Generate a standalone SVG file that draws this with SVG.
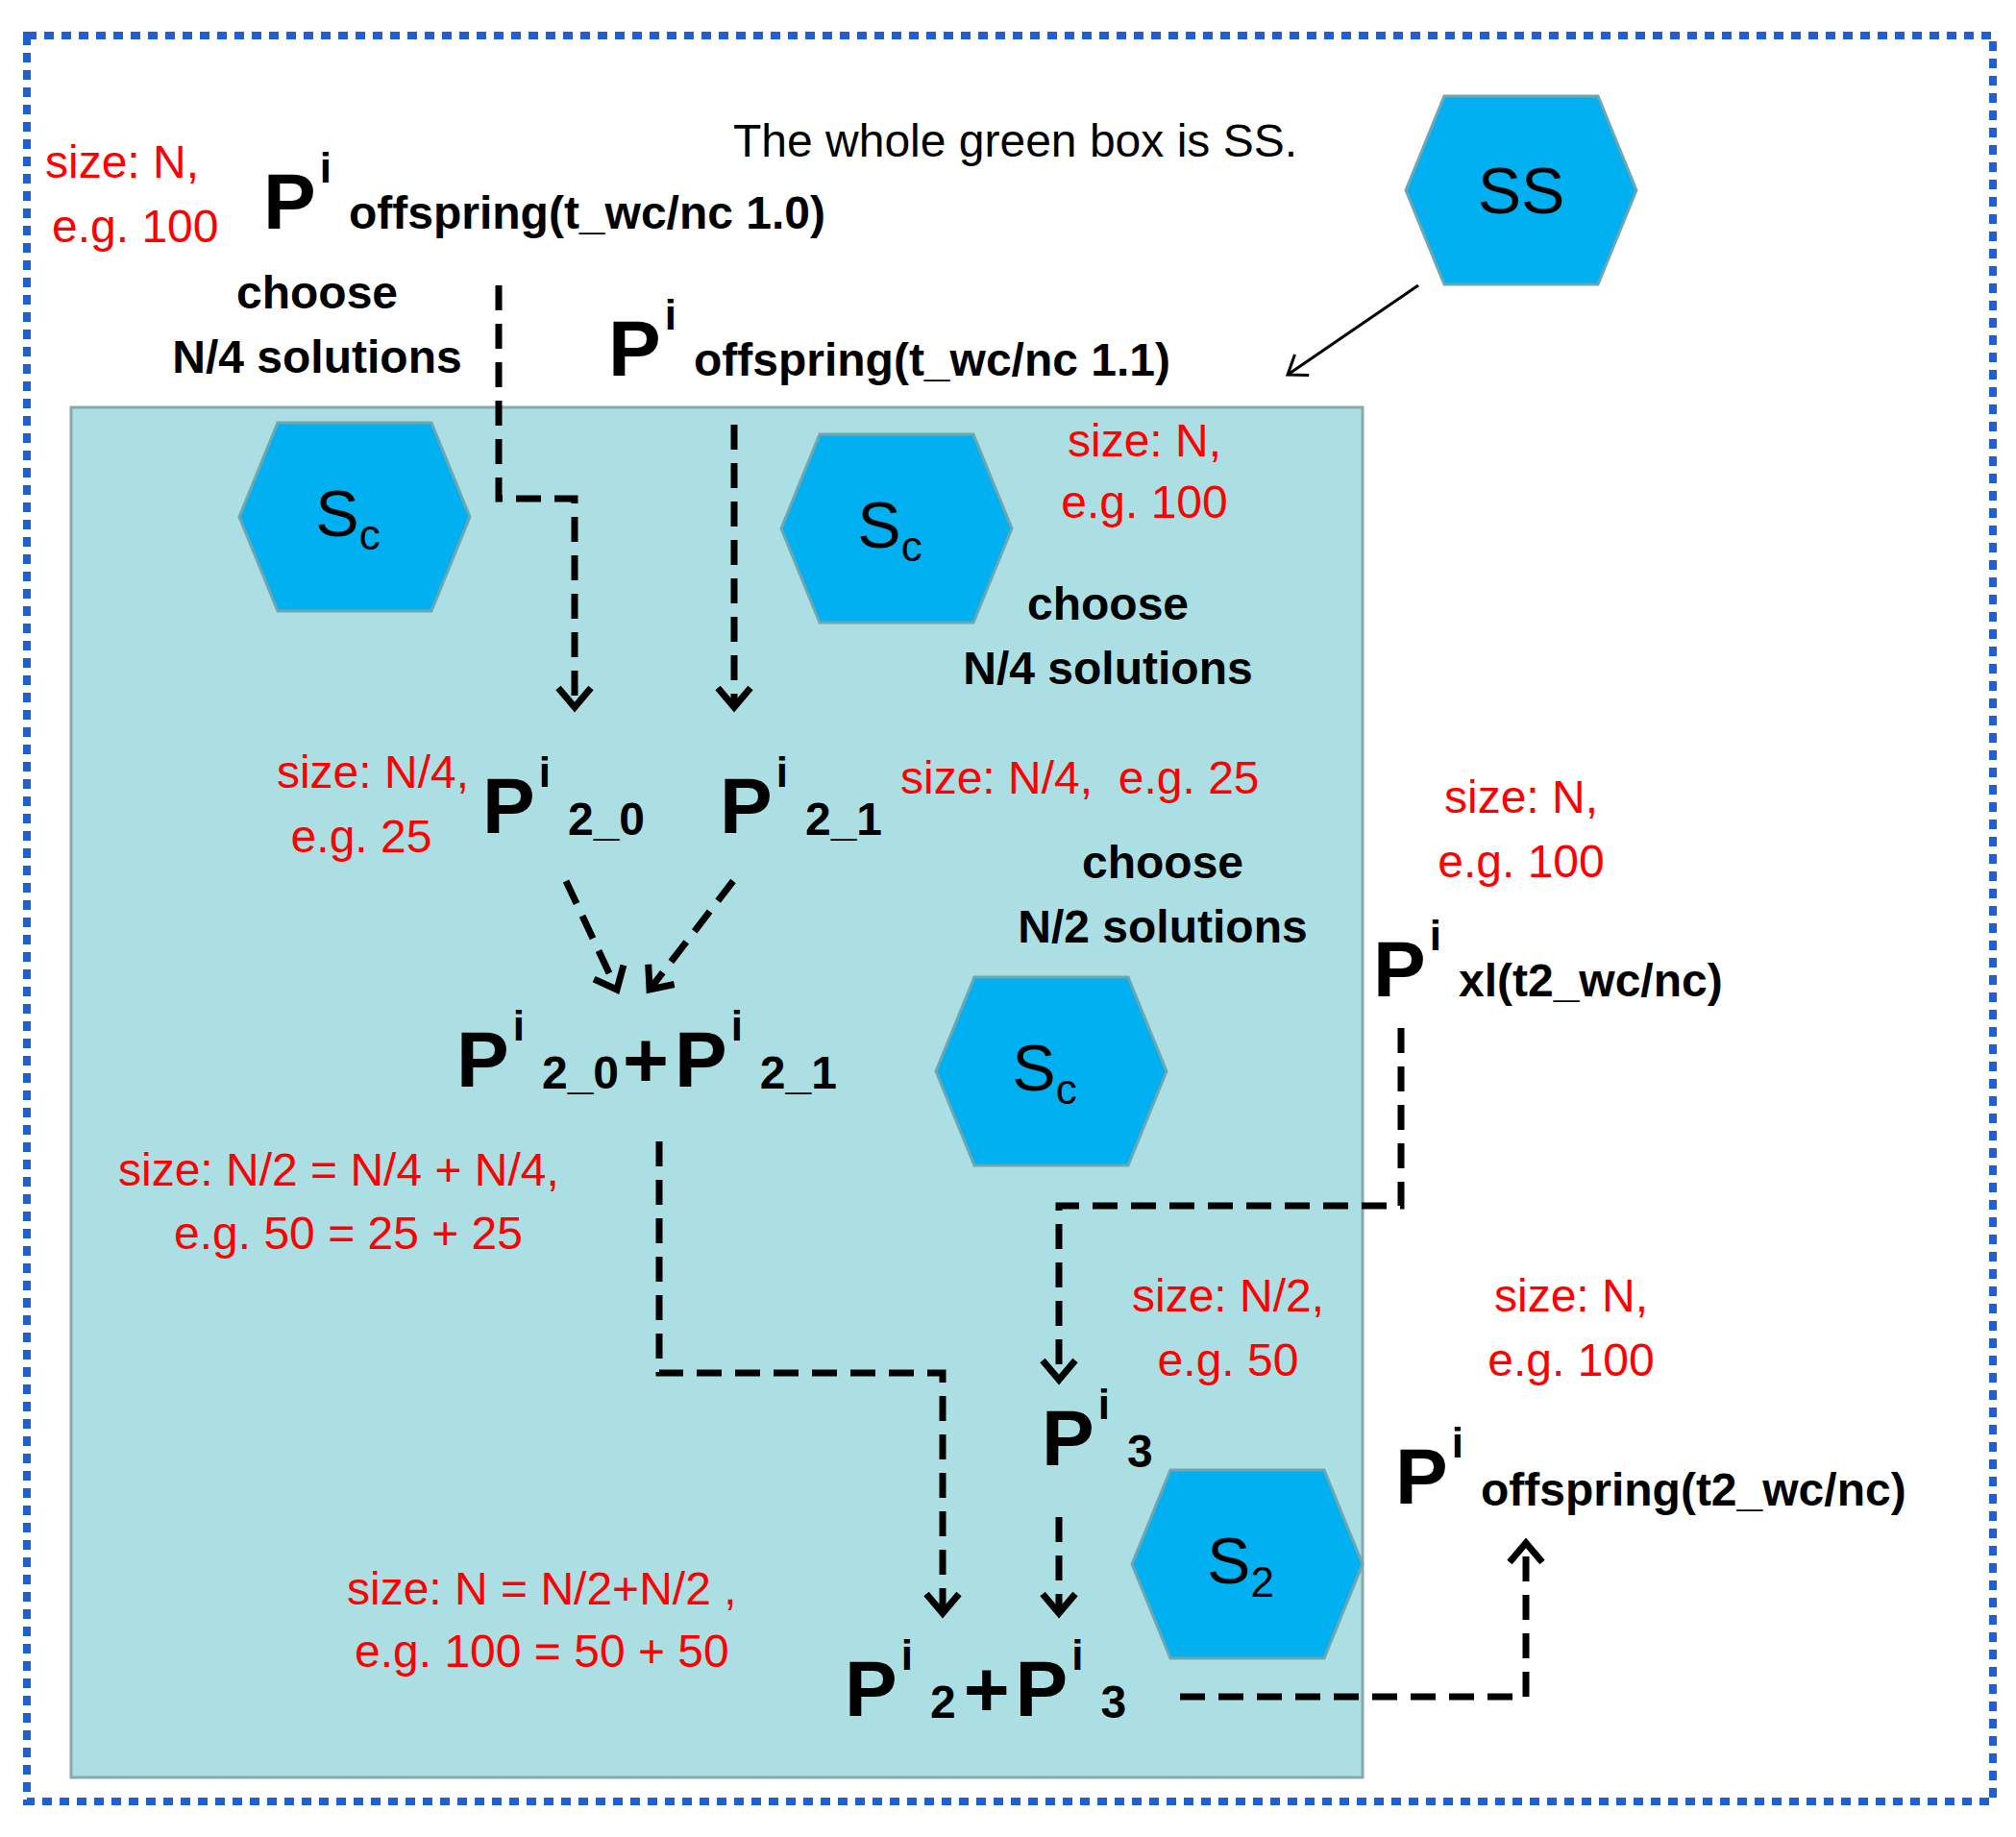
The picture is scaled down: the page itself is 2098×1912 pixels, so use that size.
<svg xmlns="http://www.w3.org/2000/svg" width="2098" height="1912" viewBox="0 0 2098 1912">
<defs>
<style>
.hex{fill:#00b0f0;stroke:#6fa6b0;stroke-width:3}
.hl{font-family:"Liberation Sans",Arial,sans-serif;font-size:68px;fill:#000;text-anchor:middle}
.red{font-family:"Liberation Sans",Arial,sans-serif;font-size:48px;fill:#ff0000}
.b{font-family:"Liberation Sans",Arial,sans-serif;font-weight:bold;fill:#000}
.P{font-size:82px}
.sup{font-size:44px}
.sub{font-size:48px}
.lab{font-size:48px;text-anchor:middle}
.dash{fill:none;stroke:#000;stroke-width:7;stroke-dasharray:26 14}
</style>
<marker id="ah" markerUnits="userSpaceOnUse" markerWidth="50" markerHeight="50" viewBox="-25 -25 50 50" refX="0" refY="0" orient="auto">
<path d="M-20,-17 L0,0 L-20,17" fill="none" stroke="#000" stroke-width="7"/>
</marker>
<marker id="ah2" markerUnits="userSpaceOnUse" markerWidth="40" markerHeight="40" viewBox="-20 -20 40 40" refX="0" refY="0" orient="auto">
<path d="M-18,-13 L0,0 L-18,13" fill="none" stroke="#000" stroke-width="3"/>
</marker>
</defs>
<rect width="2098" height="1912" fill="#fff"/>
<rect x="28" y="37" width="2046" height="1838" fill="none" stroke="#1f5fd0" stroke-width="8" stroke-dasharray="10 8"/>
<rect id="greenbox" x="74" y="424" width="1344" height="1426" fill="#acdfe3" stroke="#8aa" stroke-width="3"/>

<g id="SS"><polygon class="hex" points="1463,198 1503,100 1663,100 1703,198 1663,296 1503,296"/><text class="hl" x="1583" y="222">SS</text></g>
<g id="Sc1"><polygon class="hex" points="249,538 289,440 449,440 489,538 449,636 289,636"/><text class="hl" x="362" y="558">S<tspan font-size="44" dy="14">c</tspan></text></g>
<g id="Sc2"><polygon class="hex" points="813,550 853,452 1013,452 1053,550 1013,648 853,648"/><text class="hl" x="926" y="570">S<tspan font-size="44" dy="14">c</tspan></text></g>
<g id="Sc3"><polygon class="hex" points="974,1115 1014,1017 1174,1017 1214,1115 1174,1213 1014,1213"/><text class="hl" x="1087" y="1135">S<tspan font-size="44" dy="14">c</tspan></text></g>
<g id="S2"><polygon class="hex" points="1178,1628 1218,1530 1378,1530 1418,1628 1378,1726 1218,1726"/><text class="hl" x="1291" y="1648">S<tspan font-size="44" dy="14">2</tspan></text></g>

<g id="connectors">
<path class="dash" d="M519,297 V519 H598 V736" marker-end="url(#ah)"/>
<path class="dash" d="M764,442 V736" marker-end="url(#ah)"/>
<path class="dash" d="M589,917 L642,1030" marker-end="url(#ah)"/>
<path class="dash" d="M763,917 L676,1030" marker-end="url(#ah)"/>
<path class="dash" d="M686,1188 V1429 H981 V1679" marker-end="url(#ah)"/>
<path class="dash" d="M1458,1070 V1255 H1102 V1436" marker-end="url(#ah)"/>
<path class="dash" d="M1102,1579 V1679" marker-end="url(#ah)"/>
<path class="dash" d="M1228,1766 H1588 V1606" marker-end="url(#ah)"/>
<path d="M1476,297 L1340,390" fill="none" stroke="#000" stroke-width="3" marker-end="url(#ah2)"/>
</g>

<g id="texts">
<text x="763" y="163" font-family="Liberation Sans,Arial,sans-serif" font-size="48">The whole green box is SS.</text>
<text class="red" x="47" y="185">size: N,</text>
<text class="red" x="54" y="252">e.g. 100</text>
<text class="b" x="274" y="238"><tspan class="P">P</tspan><tspan class="sup" dx="4" dy="-48">i</tspan><tspan class="sub" dx="18" dy="48">offspring(t_wc/nc 1.0)</tspan></text>
<text class="b lab" x="330" y="321">choose</text>
<text class="b lab" x="330" y="388">N/4 solutions</text>
<text class="b" x="633" y="391"><tspan class="P">P</tspan><tspan class="sup" dx="4" dy="-48">i</tspan><tspan class="sub" dx="18" dy="48">offspring(t_wc/nc 1.1)</tspan></text>
<text class="red" x="1191" y="475" text-anchor="middle">size: N,</text>
<text class="red" x="1191" y="539" text-anchor="middle">e.g. 100</text>
<text class="b lab" x="1153" y="645">choose</text>
<text class="b lab" x="1153" y="712">N/4 solutions</text>
<text class="red" x="488" y="820" text-anchor="end">size: N/4,</text>
<text class="red" x="376" y="887" text-anchor="middle">e.g. 25</text>
<text class="b" x="502" y="867"><tspan class="P">P</tspan><tspan class="sup" dx="4" dy="-48">i</tspan><tspan class="sub" dx="18" dy="50">2_0</tspan></text>
<text class="b" x="749" y="867"><tspan class="P">P</tspan><tspan class="sup" dx="4" dy="-48">i</tspan><tspan class="sub" dx="18" dy="50">2_1</tspan></text>
<text class="red" x="937" y="826" xml:space="preserve">size: N/4,  e.g. 25</text>
<text class="b lab" x="1210" y="914">choose</text>
<text class="b lab" x="1210" y="981">N/2 solutions</text>
<text class="red" x="1583" y="846" text-anchor="middle">size: N,</text>
<text class="red" x="1583" y="913" text-anchor="middle">e.g. 100</text>
<text class="b" x="1429" y="1037"><tspan class="P">P</tspan><tspan class="sup" dx="4" dy="-48">i</tspan><tspan class="sub" dx="18" dy="48">xl(t2_wc/nc)</tspan></text>
<text class="b" x="475" y="1131"><tspan class="P">P</tspan><tspan class="sup" dx="4" dy="-48">i</tspan><tspan class="sub" dx="18" dy="50">2_0</tspan><tspan class="P" dx="4" dy="-2">+</tspan><tspan class="P" dx="6">P</tspan><tspan class="sup" dx="4" dy="-48">i</tspan><tspan class="sub" dx="18" dy="50">2_1</tspan></text>
<text class="red" x="123" y="1234">size: N/2 = N/4 + N/4,</text>
<text class="red" x="181" y="1300">e.g. 50 = 25 + 25</text>
<text class="red" x="1278" y="1365" text-anchor="middle">size: N/2,</text>
<text class="red" x="1278" y="1432" text-anchor="middle">e.g. 50</text>
<text class="red" x="1635" y="1365" text-anchor="middle">size: N,</text>
<text class="red" x="1635" y="1432" text-anchor="middle">e.g. 100</text>
<text class="b" x="1084" y="1525"><tspan class="P">P</tspan><tspan class="sup" dx="4" dy="-48">i</tspan><tspan class="sub" dx="18" dy="50">3</tspan></text>
<text class="b" x="1452" y="1565"><tspan class="P">P</tspan><tspan class="sup" dx="4" dy="-48">i</tspan><tspan class="sub" dx="18" dy="50">offspring(t2_wc/nc)</tspan></text>
<text class="red" x="361" y="1670">size: N = N/2+N/2 ,</text>
<text class="red" x="369" y="1735">e.g. 100 = 50 + 50</text>
<text class="b" x="879" y="1786"><tspan class="P">P</tspan><tspan class="sup" dx="4" dy="-48">i</tspan><tspan class="sub" dx="18" dy="50">2</tspan><tspan class="P" dx="8" dy="-2">+</tspan><tspan class="P" dx="6">P</tspan><tspan class="sup" dx="4" dy="-48">i</tspan><tspan class="sub" dx="18" dy="50">3</tspan></text>
</g>
</svg>
